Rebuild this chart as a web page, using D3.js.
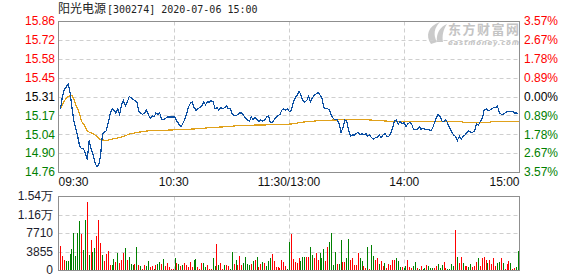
<!DOCTYPE html>
<html>
<head>
<meta charset="utf-8">
<script src="https://cdn.jsdelivr.net/npm/d3@7"></script>
<style>
  body { margin: 0; background: #fff; }
  svg { display: block; }
</style>
</head>
<body>
<div id="chart"></div>
<script>
// 分时图 阳光电源 300274, 2020-07-06
const stockName = "阳光电源";
const stockInfo = "[300274] 2020-07-06 15:00";
const prevClose = 15.31;
const priceMin = 14.76, priceMax = 15.86;
const priceLabels = ["15.86", "15.72", "15.58", "15.45", "15.31", "15.17", "15.04", "14.90", "14.76"];
const pctLabels = ["3.57%", "2.67%", "1.78%", "0.89%", "0.00%", "0.89%", "1.78%", "2.67%", "3.57%"];
const volMax = 15420;
const volLabels = ["1.54万", "1.16万", "7710", "3855", "0"];
const timeLabels = ["09:30", "10:30", "11:30/13:00", "14:00", "15:00"];

// 每分钟价格 (241 点)
const price = [
  15.22, 15.31, 15.36, 15.38, 15.40, 15.34, 15.23, 15.13, 15.08, 15.02,
  14.95, 14.93, 14.93, 14.90, 14.85, 14.99, 14.93, 14.89, 14.83, 14.80,
  14.81, 14.88, 15.04, 15.05, 15.06, 15.12, 15.18, 15.22, 15.21, 15.19,
  15.22, 15.18, 15.25, 15.28, 15.24, 15.27, 15.31, 15.30, 15.29, 15.28,
  15.27, 15.20, 15.19, 15.18, 15.19, 15.21, 15.18, 15.15, 15.17, 15.16,
  15.19, 15.18, 15.19, 15.14, 15.14, 15.15, 15.16, 15.16, 15.16, 15.16,
  15.16, 15.13, 15.11, 15.09, 15.11, 15.14, 15.18, 15.23, 15.26, 15.27,
  15.23, 15.21, 15.22, 15.23, 15.24, 15.27, 15.25, 15.27, 15.27, 15.28,
  15.27, 15.22, 15.23, 15.21, 15.23, 15.22, 15.23, 15.24, 15.22, 15.22,
  15.18, 15.17, 15.17, 15.18, 15.19, 15.19, 15.17, 15.15, 15.14, 15.13,
  15.16, 15.14, 15.16, 15.14, 15.13, 15.14, 15.13, 15.14, 15.16, 15.17,
  15.12, 15.12, 15.14, 15.16, 15.17, 15.18, 15.21, 15.22, 15.21, 15.22,
  15.20, 15.21, 15.27, 15.30, 15.32, 15.35, 15.32, 15.28, 15.27, 15.28,
  15.31, 15.27, 15.30, 15.32, 15.33, 15.34, 15.32, 15.30, 15.23, 15.22,
  15.22, 15.21, 15.17, 15.15, 15.14, 15.14, 15.11, 15.05, 15.08, 15.14,
  15.13, 15.06, 15.02, 15.03, 15.03, 15.04, 15.05, 15.03, 15.04, 15.03,
  15.04, 15.02, 15.03, 15.01, 15.00, 15.01, 15.01, 15.03, 15.01, 15.03,
  15.04, 15.02, 15.02, 15.04, 15.08, 15.13, 15.14, 15.11, 15.13, 15.11,
  15.12, 15.09, 15.11, 15.12, 15.11, 15.07, 15.07, 15.07, 15.09, 15.07,
  15.08, 15.07, 15.07, 15.07, 15.06, 15.08, 15.12, 15.16, 15.18, 15.16,
  15.13, 15.13, 15.14, 15.11, 15.08, 15.05, 15.03, 15.02, 14.99, 15.02,
  15.00, 15.02, 15.03, 15.05, 15.06, 15.05, 15.05, 15.06, 15.11, 15.10,
  15.13, 15.15, 15.21, 15.22, 15.21, 15.21, 15.22, 15.23, 15.23, 15.24,
  15.19, 15.18, 15.18, 15.19, 15.20, 15.20, 15.20, 15.20, 15.19, 15.19,
  15.18
];

// 均价线 (分钟序号, 均价)
const avgIdx = [0, 2, 4, 6, 7, 8, 9, 10, 11, 12, 13, 14, 15, 17, 19, 21, 24, 27, 31, 34,
  37, 41, 46, 56, 65, 72, 80, 87, 95, 116, 121, 128, 136, 146, 161, 172, 190, 210, 211, 225, 226, 240];
const avgVal = [15.22, 15.28, 15.31, 15.32, 15.29, 15.25, 15.22, 15.18, 15.13, 15.11, 15.09, 15.06, 15.05, 15.04, 15.02, 14.995, 14.99, 15.00, 15.01, 15.025,
  15.04, 15.05, 15.06, 15.065, 15.07, 15.075, 15.085, 15.09, 15.10, 15.105, 15.11, 15.125, 15.135, 15.14, 15.14, 15.13, 15.13, 15.13, 15.122, 15.122, 15.13, 15.13];

// 每分钟成交量 (手)
const volume = [
  5000, 2990, 2085, 1880, 1880, 3340, 4380, 7710, 2920, 7710,
  10220, 7500, 4170, 10430, 14180, 3130, 6250, 3750, 4590, 7090,
  10430, 5630, 3130, 1880, 3340, 3960, 1040, 1040, 2290, 1670,
  3540, 1460, 2085, 3540, 4590, 2085, 2710, 1250, 1040, 1250,
  4800, 1040, 830, 210, 1040, 830, 1880, 625, 830, 210,
  1040, 1250, 1670, 1250, 2290, 830, 1460, 625, 210, 210,
  2500, 1460, 1250, 830, 1040, 1460, 1040, 625, 1670, 625,
  2085, 2290, 625, 210, 1460, 1460, 625, 1040, 210, 210,
  2500, 830, 5420, 1040, 1460, 210, 1040, 1040, 830, 210,
  3750, 1250, 2085, 1040, 2920, 1040, 1460, 2710, 1250, 1040,
  1250, 1880, 2085, 2710, 625, 1250, 1670, 1460, 830, 1880,
  2500, 3340, 1880, 625, 625, 420, 2085, 1670, 830, 210,
  5840, 7500, 2290, 1670, 1460, 2500, 1880, 2710, 2710, 2710,
  2710, 4790, 3130, 2500, 3540, 2085, 3540, 2500, 4380, 1880,
  4790, 5840, 7710, 1040, 3750, 1250, 1250, 6250, 1670, 1670,
  2500, 6460, 2085, 2500, 1040, 1040, 3540, 2500, 1880, 830,
  420, 4790, 210, 5210, 2920, 2085, 2500, 1250, 1880, 830,
  1460, 420, 1250, 1040, 2085, 2085, 2500, 1880, 625, 625,
  420, 830, 2085, 625, 420, 830, 1670, 420, 210, 830,
  210, 420, 1040, 830, 420, 420, 420, 830, 1250, 420,
  1040, 1670, 420, 210, 210, 1250, 830, 8340, 2710, 1460,
  2710, 1460, 830, 830, 625, 1250, 625, 830, 1670, 2500,
  830, 2500, 2710, 2085, 1460, 2085, 1250, 2500, 830, 1460,
  1670, 2500, 1460, 210, 1250, 1880, 1460, 210, 420, 630,
  3960
];
// r = 上涨(红), g = 下跌(绿)
const volSide = (
  "rrrggggggg" + "grggrgrggr" + "rrgrrrrggr" + "grrrgrgggr" + "grgrrggrrg" + "rggrgrrrrr" +
  "grgrgrrrrr" + "ggrrrggrrr" + "ggrgrrgrrg" + "grgrrrgggg" + "rgrgrrgrgg" + "grrrrrrrrg" +
  "grrrrrgggr" + "rggrrrgggr" + "rggggrggrr" + "ggrrrrrggr" + "rgrggrrgrr" + "grrrrrgggr" +
  "ggrrrggrgr" + "ggrgggrrgg" + "grrggggrgr" + "rgrrggrrrg" + "rrrrgrrrrg" + "grgrrrgrrg" + "g"
).split("");

// 布局
const W = 578, H = 276;
const frame = { left: 58.5, right: 519.5 };
const pricePanel = { top: 21.5, bottom: 172.5 };
const volPanel = { top: 196.5, bottom: 270.5 };
const RED = "#ff0000", GREEN = "#008000", GRID = "#cfcfcf", BORDER = "#8f8f8f";
const LINE_BLUE = "#0b4fa3", LINE_AVG = "#e0a11b";

const svg = d3.select("#chart").append("svg")
  .attr("width", W).attr("height", H)
  .attr("viewBox", `0 0 ${W} ${H}`)
  .style("font-family", "'Liberation Sans', Arial, sans-serif");

svg.append("rect").attr("width", W).attr("height", H).attr("fill", "#fff");

const x = d3.scaleLinear().domain([0, 240]).range([60, 518]);
const y = d3.scaleLinear().domain([priceMin, priceMax]).range([pricePanel.bottom - 0.5, pricePanel.top - 0.5]);
const yVol = d3.scaleLinear().domain([0, volMax]).range([volPanel.bottom - 0.5, volPanel.top - 0.5]);
const gridX = d3.scaleLinear().domain([0, 4]).range([frame.left, frame.right]);

// 标题
const title = svg.append("text").attr("x", 58).attr("y", 12.5).attr("fill", "#222");
title.append("tspan").attr("font-family", "'Noto Sans CJK SC', sans-serif").attr("font-size", 12).text(stockName);
title.append("tspan").attr("font-family", "'DejaVu Sans Mono', monospace").attr("font-size", 10).attr("dx", 1).text(stockInfo);

// 水印 东方财富网
const wm = svg.append("g").attr("fill", "#c4c4c4");
wm.append("path")
  .attr("d", "M431,44 C425,36 428,26 440,22 C434,28 433,35 437,42 Z M437,42 C436,33 440,27 447,24 C443,30 442,36 443,42 Z")
  .attr("opacity", 0.9);
wm.append("text").attr("x", 448).attr("y", 34).attr("font-family", "'Noto Sans CJK SC', sans-serif")
  .attr("font-size", 13).attr("font-weight", "bold").attr("textLength", 71).text("东方财富网");
wm.append("text").attr("x", 448).attr("y", 45).attr("font-family", "'DejaVu Sans', sans-serif")
  .attr("font-size", 7).attr("font-weight", "bold").attr("font-style", "italic").attr("textLength", 71).text("eastmoney.com");

// 价格网格
const priceGrid = d3.range(priceLabels.length).map(k => priceMax - k * (priceMax - priceMin) / (priceLabels.length - 1));
const labelColor = k => k < 4 ? RED : (k === 4 ? "#000" : GREEN);

svg.append("g").selectAll("line").data(priceGrid.slice(1, -1)).join("line")
  .attr("x1", frame.left).attr("x2", frame.right)
  .attr("y1", d => Math.round(y(d)) + 0.5).attr("y2", d => Math.round(y(d)) + 0.5)
  .attr("stroke", GRID).attr("stroke-dasharray", "4,3");

const vGrid = [1, 2, 3];
svg.append("g").selectAll("line").data(vGrid).join("line")
  .attr("x1", d => Math.round(gridX(d)) + 0.5).attr("x2", d => Math.round(gridX(d)) + 0.5)
  .attr("y1", pricePanel.top).attr("y2", pricePanel.bottom)
  .attr("stroke", GRID).attr("stroke-dasharray", "4,3");

svg.append("g").selectAll("text").data(priceGrid).join("text")
  .attr("x", 55).attr("y", d => y(d)).attr("dy", "0.36em")
  .attr("text-anchor", "end").attr("font-size", 12)
  .attr("fill", (d, k) => labelColor(k))
  .text((d, k) => priceLabels[k]);

svg.append("g").selectAll("text").data(priceGrid).join("text")
  .attr("x", 524).attr("y", d => y(d)).attr("dy", "0.36em")
  .attr("font-size", 12)
  .attr("fill", (d, k) => labelColor(k))
  .text((d, k) => pctLabels[k]);

// 价格线 + 均价线
const plot = svg.append("g").attr("shape-rendering", "crispEdges");
const avgLine = d3.line().x(d => x(d[0]) + 0.5).y(d => y(d[1]));
plot.append("path")
  .attr("d", avgLine(avgIdx.map((d, k) => [d, avgVal[k]])))
  .attr("fill", "none").attr("stroke", LINE_AVG).attr("stroke-width", 1.2);

const priceLine = d3.line().x((d, i) => x(i) + 0.5).y(d => y(d));
plot.append("path")
  .attr("d", priceLine(price))
  .attr("fill", "none").attr("stroke", LINE_BLUE).attr("stroke-width", 1.2);

svg.append("rect")
  .attr("x", frame.left).attr("y", pricePanel.top)
  .attr("width", frame.right - frame.left).attr("height", pricePanel.bottom - pricePanel.top)
  .attr("fill", "none").attr("stroke", BORDER);

// 时间轴
svg.append("g").selectAll("text").data(timeLabels).join("text")
  .attr("x", (d, k) => gridX(k))
  .attr("y", 186)
  .attr("font-size", 12).attr("fill", "#111")
  .attr("text-anchor", (d, k) => k === 0 ? "start" : (k === 4 ? "end" : "middle"))
  .text(d => d);

// 成交量
const volGrid = d3.range(volLabels.length).map(k => volMax - k * volMax / (volLabels.length - 1));
svg.append("g").selectAll("line").data(volGrid.slice(1, -1)).join("line")
  .attr("x1", frame.left).attr("x2", frame.right)
  .attr("y1", d => Math.round(yVol(d)) + 0.5).attr("y2", d => Math.round(yVol(d)) + 0.5)
  .attr("stroke", GRID).attr("stroke-dasharray", "4,3");
svg.append("g").selectAll("line").data(vGrid).join("line")
  .attr("x1", d => Math.round(gridX(d)) + 0.5).attr("x2", d => Math.round(gridX(d)) + 0.5)
  .attr("y1", volPanel.top).attr("y2", volPanel.bottom)
  .attr("stroke", GRID).attr("stroke-dasharray", "4,3");

svg.append("g").attr("shape-rendering", "crispEdges")
  .selectAll("rect").data(volume).join("rect")
  .attr("x", (d, i) => Math.round(x(i)))
  .attr("width", 1)
  .attr("y", d => yVol(d))
  .attr("height", d => volPanel.bottom - 0.5 - yVol(d))
  .attr("fill", (d, i) => volSide[i] === "r" ? RED : GREEN);

svg.append("rect")
  .attr("x", frame.left).attr("y", volPanel.top)
  .attr("width", frame.right - frame.left).attr("height", volPanel.bottom - volPanel.top)
  .attr("fill", "none").attr("stroke", BORDER);

svg.append("g").selectAll("text").data(volGrid).join("text")
  .attr("x", 53).attr("y", d => yVol(d)).attr("dy", "0.36em")
  .attr("text-anchor", "end").attr("font-size", 12).attr("fill", "#1c1c2c")
  .text((d, k) => volLabels[k]);
</script>
</body>
</html>
